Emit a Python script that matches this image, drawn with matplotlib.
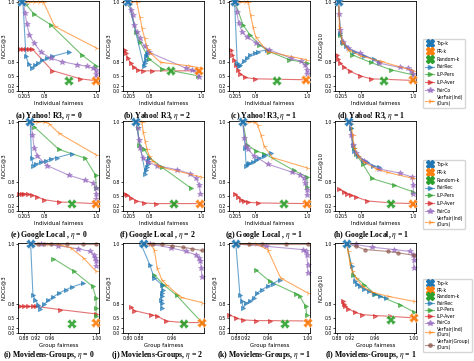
import numpy as np
import matplotlib
matplotlib.use("Agg")
import matplotlib.pyplot as plt
from matplotlib.lines import Line2D

plt.rcParams['font.family'] = ['DejaVu Sans']
plt.rcParams['mathtext.fontset'] = 'stix'

# ----------------------------- DATA -----------------------------
Y_TICKS = [0.0, 0.2, 0.5, 0.8, 1.0]
IND_TICKS = [0.2, 0.5, 0.8, 1.0]
GRP_TICKS = [0.88, 0.92, 0.96, 1.00]
GRP_TICKS_J = [0.80, 0.88, 0.96]

# ---- (a) Yahoo! R3, eta=0 ----
a_topk = [[0.22], [1.0]]
a_prk = [[1.0], [0.35]]
a_randk = [[0.894], [0.33]]
a_fairrec_x = [0.266, 0.418, 0.517, 0.571, 0.629, 0.688, 0.765, 0.812, 0.831, 0.896]
a_fairrec_y = [1.0, 0.818, 0.761, 0.667, 0.723, 0.774, 0.805, 0.813, 0.818, 0.833]
a_ilppers_x = [0.417, 0.618, 0.824, 0.944, 1.0]
a_ilppers_y = [0.992, 0.959, 0.924, 0.823, 0.714]
a_ilpaver_x = [0.109, 0.267, 0.417, 0.529, 0.588, 0.83, 0.938, 0.999]
a_ilpaver_y = [0.842, 0.842, 0.842, 0.842, 0.842, 0.614, 0.41, 0.35]
a_fairco_x = [0.299, 0.364, 0.467, 0.529, 0.617, 0.735, 0.824, 0.869, 0.926, 0.964, 0.989, 0.997, 1.0, 1.0]
a_fairco_y = [0.995, 0.963, 0.927, 0.891, 0.863, 0.833, 0.812, 0.80, 0.739, 0.702, 0.667, 0.616, 0.543, 0.479]
a_verind_x = [0.299, 0.529, 0.619, 0.706, 0.783, 0.84, 1.0]
a_verind_y = [1.0, 1.0, 1.0, 1.0, 1.0, 0.918, 0.846]

# ---- (b) Yahoo! R3, eta=2 ----
b_topk = [[0.26], [1.0]]
b_prk = [[0.99], [0.593]]
b_randk = [[0.882], [0.593]]
b_verind_x = [0.36, 0.574, 0.63, 0.67, 0.715, 0.772, 0.804, 0.843, 0.953, 1.0]
b_verind_y = [1.0, 1.0, 0.95, 0.912, 0.878, 0.842, 0.829, 0.786, 0.714, 0.664]
b_fairco_x = [0.3, 0.42, 0.5, 0.534, 0.574, 0.63, 0.715, 0.8, 0.941, 0.966, 0.98, 0.988, 0.991]
b_fairco_y = [0.997, 0.972, 0.956, 0.923, 0.9, 0.878, 0.851, 0.831, 0.664, 0.629, 0.593, 0.543, 0.48]
b_ilppers_x = [0.36, 0.557, 0.63, 0.8, 0.849, 0.988]
b_ilppers_y = [0.994, 0.9, 0.867, 0.809, 0.65, 0.5]
b_fairrec_x = [0.3, 0.704, 0.715, 0.732, 0.749, 0.766, 0.783]
b_fairrec_y = [0.997, 0.7, 0.771, 0.807, 0.818, 0.827, 0.834]
b_ilpaver_x = [0.1, 0.157, 0.26, 0.4, 0.517, 0.59, 0.687, 0.812, 0.991]
b_ilpaver_y = [0.84, 0.829, 0.812, 0.771, 0.679, 0.629, 0.607, 0.607, 0.607]

# ---- (c) Yahoo! R3, eta=1 ----
c_topk = [[0.3], [1.0]]
c_prk = [[0.996], [0.36]]
c_randk = [[0.884], [0.33]]
c_verind_x = [0.35, 0.534, 0.619, 0.676, 0.715, 0.76, 0.801, 0.846, 0.996]
c_verind_y = [1.0, 1.0, 1.0, 0.999, 0.956, 0.917, 0.884, 0.834, 0.807]
c_ilppers_x = [0.35, 0.579, 0.704, 0.816, 0.854, 0.93, 1.0]
c_ilppers_y = [0.994, 0.923, 0.89, 0.856, 0.834, 0.807, 0.771]
c_fairco_x = [0.35, 0.4, 0.506, 0.562, 0.647, 0.804, 0.854, 0.937, 0.975, 0.991, 0.997, 0.999]
c_fairco_y = [1.0, 0.967, 0.928, 0.9, 0.884, 0.862, 0.84, 0.812, 0.801, 0.736, 0.629, 0.543]
c_fairrec_x = [0.3, 0.433, 0.506, 0.534, 0.59, 0.647, 0.704, 0.789, 0.81, 0.846]
c_fairrec_y = [1.0, 0.771, 0.7, 0.736, 0.801, 0.812, 0.823, 0.829, 0.834, 0.84]
c_ilpaver_x = [0.12, 0.19, 0.267, 0.35, 0.467, 0.534, 0.619, 0.789, 0.994]
c_ilpaver_y = [0.84, 0.823, 0.807, 0.736, 0.629, 0.543, 0.45, 0.41, 0.38]

# ---- (d) Yahoo! R3, eta=1, NDCG@10 ----
d_topk = [[0.2], [1.0]]
d_prk = [[0.999], [0.36]]
d_randk = [[0.888], [0.35]]
d_fairco_x = [0.2, 0.22, 0.28, 0.44, 0.566, 0.785, 0.869, 0.947, 0.979, 0.992, 0.999, 0.999]
d_fairco_y = [1.0, 0.961, 0.906, 0.867, 0.845, 0.829, 0.771, 0.679, 0.657, 0.614, 0.543, 0.471]
d_verind_x = [0.2, 0.24, 0.38, 0.566, 0.785, 0.875, 0.999]
d_verind_y = [1.0, 0.917, 0.867, 0.84, 0.82, 0.801, 0.614]
d_fairrec_x = [0.2, 0.28, 0.38, 0.529, 0.676, 0.81, 0.849, 0.869]
d_fairrec_y = [1.0, 0.895, 0.867, 0.851, 0.834, 0.82, 0.809, 0.8]
d_ilppers_x = [0.2, 0.28, 0.44, 0.639, 0.836, 0.914, 0.999, 0.999]
d_ilppers_y = [1.0, 0.89, 0.862, 0.823, 0.786, 0.629, 0.521, 0.38]
d_ilpaver_x = [0.1, 0.18, 0.28, 0.48, 0.602, 0.785, 0.836, 0.999]
d_ilpaver_y = [0.823, 0.809, 0.771, 0.686, 0.593, 0.5, 0.41, 0.36]

# ---- (e) Google Local, eta=0 ----
e_topk = [[0.547], [1.0]]
e_prk = [[0.999], [0.262]]
e_randk = [[0.906], [0.24]]
e_verind_x = [0.588, 0.676, 0.794, 0.818, 0.856, 0.999]
e_verind_y = [1.0, 1.0, 1.0, 0.994, 0.962, 0.89]
e_ilppers_x = [0.588, 0.618, 0.856, 0.957, 0.997, 1.0]
e_ilppers_y = [0.994, 0.984, 0.908, 0.879, 0.822, 0.657]
e_fairco_x = [0.559, 0.588, 0.618, 0.676, 0.811, 0.894, 0.957, 0.989, 0.997, 0.999, 1.0]
e_fairco_y = [1.0, 0.957, 0.913, 0.886, 0.854, 0.822, 0.805, 0.764, 0.657, 0.55, 0.416]
e_fairrec_x = [0.547, 0.571, 0.6, 0.647, 0.735, 0.805, 0.824, 0.849, 0.906]
e_fairrec_y = [1.0, 0.881, 0.854, 0.859, 0.865, 0.87, 0.876, 0.881, 0.894]
e_ilpaver_x = [0.073, 0.2, 0.333, 0.5, 0.588, 0.676, 0.794, 0.856, 0.995]
e_ilpaver_y = [0.55, 0.55, 0.55, 0.536, 0.514, 0.468, 0.385, 0.313, 0.262]

# ---- (f) Google Local, eta=2 ----
f_topk = [[0.56], [1.0]]
f_prk = [[0.996], [0.262]]
f_randk = [[0.896], [0.24]]
f_verind_x = [0.56, 0.668, 0.692, 0.728, 0.758, 0.8, 0.812, 0.836, 1.0]
f_verind_y = [1.0, 1.0, 0.967, 0.935, 0.908, 0.886, 0.87, 0.851, 0.816]
f_fairco_x = [0.56, 0.59, 0.608, 0.632, 0.68, 0.77, 0.83, 0.908, 0.956, 0.98, 0.992, 0.996]
f_fairco_y = [1.0, 0.978, 0.94, 0.913, 0.881, 0.865, 0.854, 0.84, 0.827, 0.811, 0.729, 0.55]
f_ilppers_x = [0.56, 0.59, 0.62, 0.71, 0.8, 0.848, 0.962]
f_ilppers_y = [1.0, 0.984, 0.924, 0.908, 0.881, 0.849, 0.657]
f_fairrec_x = [0.56, 0.728, 0.74, 0.752, 0.77, 0.782, 0.8]
f_fairrec_y = [1.0, 0.827, 0.838, 0.849, 0.859, 0.87, 0.879]
f_ilpaver_x = [0.125, 0.235, 0.411, 0.56, 0.71, 0.824, 0.896, 0.998]
f_ilpaver_y = [0.55, 0.514, 0.44, 0.355, 0.282, 0.262, 0.262, 0.262]

# ---- (g) Google Local, eta=1 ----
g_topk = [[0.576], [1.0]]
g_prk = [[1.0], [0.262]]
g_randk = [[0.91], [0.24]]
g_verind_x = [0.576, 0.665, 0.782, 0.809, 0.822, 0.834, 0.866, 1.0]
g_verind_y = [1.0, 1.0, 1.0, 0.989, 0.957, 0.919, 0.881, 0.846]
g_fairco_x = [0.576, 0.606, 0.635, 0.665, 0.782, 0.847, 0.942, 0.973, 0.986, 0.992, 0.999, 0.999]
g_fairco_y = [1.0, 0.946, 0.919, 0.908, 0.886, 0.859, 0.832, 0.822, 0.811, 0.764, 0.621, 0.514]
g_ilppers_x = [0.576, 0.653, 0.803, 0.834, 0.948, 0.999, 1.0]
g_ilppers_y = [1.0, 0.924, 0.903, 0.894, 0.838, 0.816, 0.693]
g_fairrec_x = [0.576, 0.618, 0.635, 0.665, 0.694, 0.753, 0.803, 0.815, 0.834, 0.86]
g_fairrec_y = [1.0, 0.913, 0.854, 0.859, 0.862, 0.865, 0.872, 0.879, 0.886, 0.897]
g_ilpaver_x = [0.3, 0.49, 0.547, 0.606, 0.665, 0.809, 0.999]
g_ilpaver_y = [0.55, 0.468, 0.385, 0.334, 0.303, 0.282, 0.262]

# ---- (h) Google Local, eta=1, NDCG@10 ----
h_topk = [[0.581], [1.0]]
h_prk = [[1.0], [0.262]]
h_randk = [[0.914], [0.24]]
h_fairco_x = [0.581, 0.613, 0.644, 0.706, 0.811, 0.868, 0.948, 0.994, 1.0, 1.0]
h_fairco_y = [1.0, 0.957, 0.924, 0.897, 0.87, 0.843, 0.829, 0.816, 0.729, 0.55]
h_verind_x = [0.581, 0.613, 0.644, 0.675, 0.738, 0.811, 0.857, 0.897, 1.0]
h_verind_y = [1.0, 0.994, 0.957, 0.913, 0.886, 0.865, 0.843, 0.832, 0.811]
h_fairrec_x = [0.581, 0.613, 0.644, 0.675, 0.738, 0.806, 0.823, 0.846, 0.868]
h_fairrec_y = [1.0, 0.978, 0.924, 0.903, 0.886, 0.872, 0.865, 0.854, 0.849]
h_ilppers_x = [0.581, 0.613, 0.663, 0.706, 0.806, 0.84, 0.925, 1.0]
h_ilppers_y = [1.0, 0.978, 0.913, 0.892, 0.859, 0.811, 0.729, 0.586]
h_ilpaver_x = [0.243, 0.457, 0.55, 0.613, 0.706, 0.823, 0.914, 1.0]
h_ilpaver_y = [0.636, 0.586, 0.55, 0.514, 0.468, 0.344, 0.282, 0.262]

# ---- (i) Movielens-Groups, eta=0 ----
i_topk = [[0.903], [1.0]]
i_prk = [[1.0], [0.356]]
i_randk = [[0.979], [0.32]]
i_vergrp_x = [0.903, 0.926, 0.944, 0.961, 0.975, 0.989, 1.0]
i_vergrp_y = [1.0, 1.0, 1.0, 1.0, 1.0, 1.0, 1.0]
i_fairco_x = [0.903, 0.935, 0.967, 0.984, 0.995, 0.998, 0.999, 1.0, 1.0]
i_fairco_y = [1.0, 1.0, 0.994, 0.984, 0.975, 0.964, 0.953, 0.942, 0.927]
i_verind_x = [0.903, 0.954, 0.967, 0.978, 0.989, 1.0]
i_verind_y = [1.0, 1.0, 0.998, 0.987, 0.953, 0.908]
i_ilppers_x = [0.963, 0.981, 0.997, 1.0, 1.0, 1.0]
i_ilppers_y = [0.951, 0.908, 0.858, 0.819, 0.709, 0.535]
i_fairrec_x = [0.903, 0.911, 0.919, 0.928, 0.933, 0.944, 0.956, 0.963, 0.968, 0.974, 0.979, 0.989]
i_fairrec_y = [1.0, 0.83, 0.813, 0.779, 0.695, 0.793, 0.812, 0.823, 0.836, 0.847, 0.856, 0.869]
i_ilpaver_x = [0.865, 0.88, 0.894, 0.911, 0.922, 0.969, 1.0]
i_ilpaver_y = [0.744, 0.744, 0.744, 0.744, 0.744, 0.675, 0.584]

# ---- (j) Movielens-Groups, eta=2 ----
j_topk = [[0.892], [1.0]]
j_prk = [[1.0], [0.356]]
j_randk = [[0.976], [0.32]]
j_vergrp_x = [0.892, 0.914, 0.935, 0.96, 0.974, 0.986, 1.0]
j_vergrp_y = [1.0, 1.0, 0.998, 0.994, 0.989, 0.984, 0.978]
j_fairco_x = [0.892, 0.906, 0.956, 0.978, 0.992, 0.996, 0.998, 0.999, 1.0]
j_fairco_y = [1.0, 1.0, 0.987, 0.975, 0.964, 0.953, 0.942, 0.92, 0.888]
j_verind_x = [0.892, 0.906, 0.917, 0.924, 0.935, 0.946, 0.972, 1.0]
j_verind_y = [1.0, 1.0, 0.981, 0.92, 0.88, 0.864, 0.821, 0.804]
j_ilppers_x = [0.917, 0.939, 0.966, 1.0]
j_ilppers_y = [0.897, 0.864, 0.828, 0.356]
j_fairrec_x = [0.885, 0.906, 0.917, 0.935, 0.937, 0.935, 0.935, 0.934, 0.935, 0.935]
j_fairrec_y = [1.0, 0.931, 0.886, 0.864, 0.847, 0.836, 0.825, 0.813, 0.802, 0.709]
j_ilpaver_x = [0.824, 0.847, 0.91, 0.924, 0.946, 0.974, 1.0]
j_ilpaver_y = [0.723, 0.654, 0.57, 0.535, 0.404, 0.356, 0.356]

# ---- (k) Movielens-Groups, eta=1 ----
k_topk = [[0.88], [1.0]]
k_prk = [[1.0], [0.356]]
k_randk = [[0.977], [0.32]]
k_vergrp_x = [0.88, 0.887, 0.926, 0.949, 0.978, 1.0]
k_vergrp_y = [1.0, 1.0, 1.0, 1.0, 1.0, 1.0]
k_fairco_x = [0.88, 0.957, 0.995, 0.998, 0.999, 1.0, 1.0]
k_fairco_y = [1.0, 0.992, 0.981, 0.975, 0.964, 0.931, 0.903]
k_verind_x = [0.88, 0.926, 0.938, 0.96, 0.973, 1.0]
k_verind_y = [1.0, 1.0, 1.0, 0.981, 0.886, 0.836]
k_ilppers_x = [0.938, 0.962, 0.988, 0.992, 0.998, 0.999]
k_ilppers_y = [0.914, 0.875, 0.834, 0.825, 0.744, 0.57]
k_fairrec_x = [0.88, 0.896, 0.903, 0.909, 0.92, 0.927, 0.934, 0.941, 0.949, 0.96, 0.965, 0.972]
k_fairrec_y = [1.0, 0.83, 0.81, 0.709, 0.802, 0.808, 0.819, 0.836, 0.847, 0.858, 0.867, 0.88]
k_ilpaver_x = [0.854, 0.88, 0.907, 0.938, 0.962, 1.0]
k_ilpaver_y = [0.57, 0.5, 0.44, 0.416, 0.416, 0.404]

# ---- (l) Movielens-Groups, eta=1, NDCG@10 ----
l_topk = [[0.91], [1.0]]
l_prk = [[1.0], [0.5]]
l_randk = [[0.976], [0.44]]
l_vergrp_x = [0.91, 0.93, 0.944, 0.973, 0.984, 1.0]
l_vergrp_y = [1.0, 0.992, 0.981, 0.975, 0.97, 0.962]
l_fairco_x = [0.91, 0.93, 0.955, 0.98, 0.996, 0.999, 1.0, 1.0]
l_fairco_y = [1.0, 0.998, 0.989, 0.981, 0.975, 0.964, 0.947, 0.92]
l_verind_x = [0.91, 0.915, 0.92, 0.924, 0.93, 0.94, 0.955, 0.973, 1.0]
l_verind_y = [1.0, 0.975, 0.936, 0.908, 0.886, 0.858, 0.839, 0.825, 0.808]
l_fairrec_x = [0.91, 0.923, 0.928, 0.931, 0.936, 0.943, 0.95, 0.958, 0.965, 0.971]
l_fairrec_y = [1.0, 0.925, 0.875, 0.866, 0.858, 0.849, 0.841, 0.834, 0.825, 0.819]
l_ilppers_x = [0.91, 0.925, 0.943, 0.96, 0.986, 1.0]
l_ilppers_y = [1.0, 0.897, 0.864, 0.832, 0.779, 0.626]
l_ilpaver_x = [0.897, 0.9, 0.905, 0.915, 0.928, 0.94, 0.96, 0.975, 1.0]
l_ilpaver_y = [0.81, 0.793, 0.744, 0.695, 0.619, 0.57, 0.549, 0.535, 0.5]

CAPTIONS = [
    "(a) Yahoo! R3, $\\eta$ = 0", "(b) Yahoo! R3, $\\eta$ = 2",
    "(c) Yahoo! R3, $\\eta$ = 1", "(d) Yahoo! R3, $\\eta$ = 1",
    "(e) Google Local , $\\eta$ = 0", "(f) Google Local , $\\eta$ = 2",
    "(g) Google Local , $\\eta$ = 1", "(h) Google Local, $\\eta$ = 1",
    "(i) Movielens-Groups, $\\eta$ = 0", "(j) Movielens-Groups, $\\eta$ = 2",
    "(k) Movielens-Groups, $\\eta$ = 1", "(l) Movielens-Groups, $\\eta$ = 1",
]
YLABELS = ["NDCG@3", "NDCG@3", "NDCG@3", "NDCG@10"]

# ----------------------------- STYLE -----------------------------
BLUE, ORANGE, GREEN, RED, PURPLE, BROWN = ('#1f77b4', '#ff7f0e', '#2ca02c',
                                          '#d62728', '#9467bd', '#8c564b')
LINE_STYLES = {
    'fairrec': dict(color=BLUE, marker='>', ms=3),
    'ilppers': dict(color=GREEN, marker='>', ms=3),
    'ilpaver': dict(color=RED, marker='>', ms=3),
    'fairco': dict(color=PURPLE, marker='*', ms=4),
    'verind': dict(color=ORANGE, marker='4', ms=4),
    'vergrp': dict(color=BROWN, marker='o', ms=2.5),
}
LINE_ORDER = ['ilpaver', 'ilppers', 'fairrec', 'fairco', 'verind', 'vergrp']

W, H = 474, 361
fig = plt.figure(figsize=(W / 100, H / 100), dpi=100)


def piecewise(vals, pos):
    vals = np.asarray(vals, float)
    pos = np.asarray(pos, float)
    s0 = (pos[1] - pos[0]) / (vals[1] - vals[0])
    s1 = (pos[-1] - pos[-2]) / (vals[-1] - vals[-2])
    v = np.r_[vals[0] - 5, vals, vals[-1] + 5]
    p = np.r_[pos[0] - 5 * s0, pos, pos[-1] + 5 * s1]

    def fwd(x):
        return np.interp(np.asarray(x, float), v, p)

    def inv(y):
        return np.interp(np.asarray(y, float), p, v)
    return fwd, inv


Y_SCALE = piecewise([0.0, 0.2, 0.5, 0.8, 1.0], [0.0, 0.06, 0.168, 0.325, 0.99])
IND_SCALE = piecewise([0.0, 0.2, 0.5, 0.8, 1.0], [0.0, 0.045, 0.118, 0.325, 0.967])
GRP_SCALES = {
    'i': (piecewise([0.80, 0.88, 0.92, 0.96, 1.00], [-0.211, 0.073, 0.215, 0.393, 0.964]), (0.859, 1.0025)),
    'j': (piecewise([0.80, 0.88, 0.92, 0.96, 1.00], [0.0625, 0.195, 0.401, 0.607, 0.974]), (0.762, 1.0028)),
    'k': (piecewise([0.80, 0.88, 0.92, 0.96, 1.00], [-0.165, 0.085, 0.21, 0.477, 0.971]), (0.853, 1.0023)),
    'l': (piecewise([0.80, 0.88, 0.92, 0.96, 1.00], [-0.285, 0.027, 0.183, 0.494, 0.973]), (0.873, 1.0023)),
}

COL_LEFT = [18, 123, 229, 335]
COL_W = 81
ROW_TOP = [1, 121, 243]
ROW_H = 90
CAP_X = [49, 157, 264, 371]
CAP_Y = [116, 235, 355]

g = globals()
for idx, key in enumerate('abcdefghijkl'):
    r, c = divmod(idx, 4)
    ax = fig.add_axes([COL_LEFT[c] / W, 1 - (ROW_TOP[r] + ROW_H) / H, COL_W / W, ROW_H / H])
    ax.set_yscale('function', functions=Y_SCALE)
    if r < 2:
        ax.set_xscale('function', functions=IND_SCALE)
        ax.set_xlim(0.0, 1.0103)
        ax.set_xticks(IND_TICKS)
        ax.set_xticklabels([f"{t:.1f}" for t in IND_TICKS])
        ax.set_xlabel("Individual fairness", fontsize=3.9, labelpad=1.0)
    else:
        (fns, lims) = GRP_SCALES[key]
        ax.set_xscale('function', functions=fns)
        ax.set_xlim(*lims)
        ticks = GRP_TICKS_J if key == 'j' else GRP_TICKS
        ax.set_xticks(ticks)
        ax.set_xticklabels([f"{t:.2f}" for t in ticks])
        ax.set_xlabel("Group fairness", fontsize=3.9, labelpad=1.0)
    ax.set_ylim(0.0, 1.003)
    ax.set_yticks(Y_TICKS)
    ax.set_yticklabels([f"{t:.1f}" for t in Y_TICKS])
    ax.set_ylabel(YLABELS[c], fontsize=3.9, labelpad=0.8)
    ax.tick_params(labelsize=3.3, length=1.5, width=0.5, pad=0.9)
    for s in ax.spines.values():
        s.set_linewidth(0.6)

    for name in LINE_ORDER:
        xs = g.get(f"{key}_{name}_x")
        ys = g.get(f"{key}_{name}_y")
        if xs is None:
            continue
        st = LINE_STYLES[name]
        ax.plot(xs, ys, color=st['color'], marker=st['marker'], ms=st['ms'],
                lw=0.8, alpha=0.65, mew=0.6, clip_on=False)
    for name, col in (('randk', GREEN), ('topk', BLUE), ('prk', ORANGE)):
        px, py = g[f"{key}_{name}"]
        ax.plot(px, py, ls='none', marker='X', ms=6.5, color=col, alpha=0.9,
                mec='white', mew=0.3, clip_on=False, zorder=5)

    fig.text(CAP_X[c] / W, 1 - CAP_Y[r] / H, CAPTIONS[idx], ha='center', va='center',
             fontsize=5.6, fontweight='bold', family='Liberation Serif')


def legend_handles(with_group):
    hs = [
        Line2D([], [], ls='none', marker='X', ms=5.5, color=BLUE, label='Top-k'),
        Line2D([], [], ls='none', marker='X', ms=5.5, color=ORANGE, label='PR-k'),
        Line2D([], [], ls='none', marker='X', ms=5.5, color=GREEN, label='Random-k'),
        Line2D([], [], color=BLUE, marker='>', ms=3, lw=0.8, alpha=0.65, label='FairRec'),
        Line2D([], [], color=GREEN, marker='>', ms=3, lw=0.8, alpha=0.65, label='ILP-Pers'),
        Line2D([], [], color=RED, marker='>', ms=3, lw=0.8, alpha=0.65, label='ILP-Aver'),
        Line2D([], [], color=PURPLE, marker='*', ms=4, lw=0.8, alpha=0.65, label='FairCo'),
        Line2D([], [], color=ORANGE, marker='4', ms=4, lw=0.8, alpha=0.65, label='VerFair(Ind)\n(Ours)'),
    ]
    if with_group:
        hs.append(Line2D([], [], color=BROWN, marker='o', ms=2.5, lw=0.8, alpha=0.65,
                         label='VerFair(Group)\n(Ours)'))
    return hs


for top, grp, spacing in ((39, False, 0.6), (160, False, 0.6), (279, True, 0.33)):
    fig.legend(handles=legend_handles(grp), loc='upper left',
               bbox_to_anchor=(423 / W, 1 - top / H), bbox_transform=fig.transFigure,
               fontsize=3.3, handlelength=2.0, handletextpad=0.5, labelspacing=spacing,
               borderpad=0.45, borderaxespad=0.0, frameon=True, edgecolor='0.8')

fig.savefig("out.png", dpi=100)
